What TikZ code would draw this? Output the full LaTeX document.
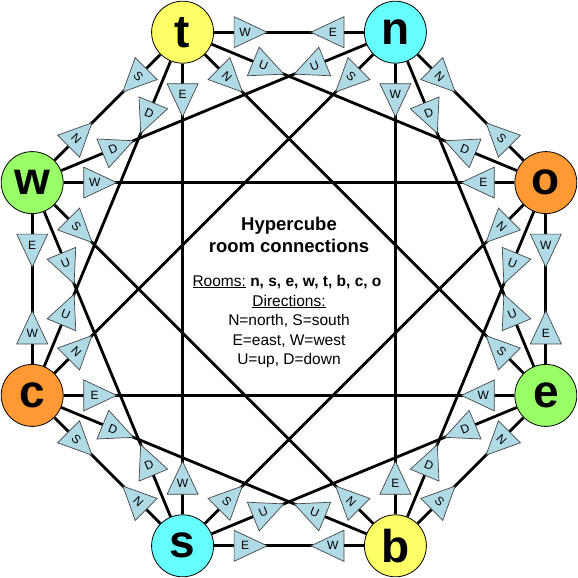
\documentclass[tikz,border=0pt]{standalone}
\usepackage{fontspec}
\setmainfont{Liberation Sans}
\usetikzlibrary{calc}
\pgfdeclarelayer{back}\pgfdeclarelayer{bg}\pgfdeclarelayer{mid}
\pgfsetlayers{back,bg,mid,main}
\definecolor{ryellow}{RGB}{255,255,102}
\definecolor{rcyan}{RGB}{102,255,255}
\definecolor{rorange}{RGB}{255,153,51}
\definecolor{rgreen}{RGB}{153,255,102}
\definecolor{tribg}{RGB}{176,218,230}
\definecolor{triline}{RGB}{70,70,70}
\tikzset{
  room/.style={circle,draw=black,line width=0.8pt,minimum size=62pt,inner sep=0pt,
    font=\fontsize{46}{46}\selectfont\bfseries},
  conn/.style={line width=2.8pt,black},
  trishape/.style={draw=triline,fill=tribg,line width=0.7pt,line join=miter},
  trilabel/.style={inner sep=0pt,font=\fontsize{12}{12}\selectfont},
  infotext/.style={anchor=base,inner sep=0pt,font=\fontsize{15.5}{17}\selectfont},
  titletext/.style={anchor=base,inner sep=0pt,font=\fontsize{18.5}{20}\selectfont\bfseries}
}
\newcommand\tri[4]{%
  \pgfmathanglebetweenpoints{\pgfpointanchor{#1}{center}}{\pgfpointanchor{#2}{center}}%
  \let\triang\pgfmathresult
  \pgfmathsetmacro\txtrot{mod(\triang+45,90)-45}%
  \pgfmathsetmacro\tripA{#4+16.5}%
  \pgfmathsetmacro\tripB{#4-16.5}%
  \pgfmathsetmacro\tricen{#4-5.5}%
  \draw[trishape] ($(#1)!\tripA pt!(#2)$)
     -- ($(#1)!\tripB pt!(#2)+(\triang+90:15.5pt)$)
     -- ($(#1)!\tripB pt!(#2)+(\triang-90:15.5pt)$) -- cycle;
  \node[trilabel,rotate=\txtrot] (lbl#1#2) at ($(#1)!\tricen pt!(#2)$) {#3};%
}
\newcommand\link[5]{%
  \begin{pgfonlayer}{bg}\draw[conn] (#1) -- (#2);\end{pgfonlayer}%
  \begin{pgfonlayer}{mid}\tri{#1}{#2}{#3}{#5}\tri{#2}{#1}{#4}{#5}\end{pgfonlayer}%
}
\begin{document}
\begin{tikzpicture}[x=1pt,y=-1pt]
\useasboundingbox (0,0) rectangle (578,578);
\begin{pgfonlayer}{back}\fill[white] (0,0) rectangle (578,578);\end{pgfonlayer}
% rooms
\node[room,fill=ryellow] (t) at (182.6,32.2) {t};
\node[room,fill=rcyan]   (n) at (395.4,32.2) {n};
\node[room,fill=rorange] (o) at (545.8,182.6) {o};
\node[room,fill=rgreen]  (e) at (545.8,395.4) {e};
\node[room,fill=ryellow] (b) at (395.4,545.8) {b};
\node[room,fill=rcyan]   (s) at (182.6,545.8) {s};
\node[room,fill=rorange] (c) at (32.2,395.4) {c};
\node[room,fill=rgreen]  (w) at (32.2,182.6) {w};
% connections
\link{t}{n}{W}{E}{68}
\link{t}{o}{U}{D}{93}
\link{t}{e}{N}{S}{68}
\link{t}{s}{E}{W}{68}
\link{t}{c}{D}{U}{93}
\link{t}{w}{S}{N}{68}
\link{n}{w}{U}{D}{93}
\link{n}{c}{S}{N}{68}
\link{n}{b}{W}{E}{68}
\link{n}{e}{D}{U}{93}
\link{n}{o}{N}{S}{68}
\link{o}{w}{E}{W}{68}
\link{o}{s}{N}{S}{68}
\link{o}{b}{U}{D}{93}
\link{o}{e}{W}{E}{68}
\link{e}{c}{W}{E}{68}
\link{e}{s}{D}{U}{93}
\link{e}{b}{N}{S}{68}
\link{b}{s}{W}{E}{68}
\link{b}{c}{U}{D}{93}
\link{b}{w}{N}{S}{68}
\link{s}{w}{D}{U}{93}
\link{s}{c}{N}{S}{68}
\link{c}{w}{W}{E}{68}
% legend
\node[titletext] (title1) at (289,230) {Hypercube};
\node[titletext] (title2) at (289,252) {room connections};
\node[infotext] (rooms) at (287,286) {\underline{Rooms:} \textbf{n, s, e, w, t, b, c, o}};
\node[infotext] (dirs) at (289,306) {\underline{Directions:}};
\node[infotext] (ns) at (289,325) {N=north, S=south};
\node[infotext] (ew) at (289,345) {E=east, W=west};
\node[infotext] (ud) at (289,364) {U=up, D=down};
\end{tikzpicture}
\end{document}
